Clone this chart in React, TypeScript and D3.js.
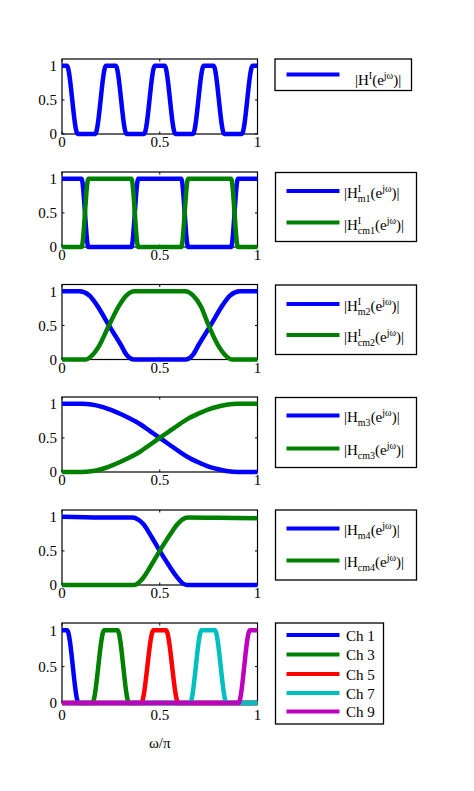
import React from 'react';
import * as d3 from 'd3';

type Pt = [number, number];

// tick values and labels shared by every panel
const xTicks = [0, 0.5, 1];
const yTicks = [0, 0.5, 1];
const tickLabels = ['0', '0.5', '1'];

// panel 1: |H^I(e^jw)|
const hI: Pt[] = [
  [0, 1], [0.025, 1], [0.08, 0], [0.17, 0], [0.225, 1], [0.275, 1], [0.33, 0], [0.42, 0],
  [0.475, 1], [0.525, 1], [0.58, 0], [0.67, 0], [0.725, 1], [0.775, 1], [0.83, 0], [0.92, 0],
  [0.975, 1], [1, 1],
];

// panel 2
const hm1: Pt[] = [
  [0, 1], [0.1, 1], [0.135, 0], [0.355, 0], [0.39, 1], [0.61, 1], [0.645, 0], [0.865, 0], [0.9, 1], [1, 1],
];
const hcm1: Pt[] = [
  [0, 0], [0.1, 0], [0.135, 1], [0.355, 1], [0.39, 0], [0.61, 0], [0.645, 1], [0.865, 1], [0.9, 0], [1, 0],
];

// panel 3
const hm2: Pt[] = [
  [0, 1], [0.09, 1], [0.14, 0.94], [0.18, 0.79], [0.24, 0.5], [0.3, 0.22], [0.33, 0.07], [0.37, 0],
  [0.63, 0], [0.67, 0.07], [0.7, 0.22], [0.76, 0.5], [0.82, 0.79], [0.86, 0.94], [0.91, 1], [1, 1],
];
const hcm2: Pt[] = [
  [0, 0], [0.12, 0], [0.15, 0.05], [0.19, 0.2], [0.24, 0.5], [0.29, 0.78], [0.33, 0.94], [0.37, 1],
  [0.63, 1], [0.67, 0.94], [0.71, 0.78], [0.75, 0.5], [0.8, 0.2], [0.84, 0.05], [0.87, 0], [1, 0],
];

// panel 4
const hm3: Pt[] = [
  [0, 1], [0.1, 1], [0.15, 0.99], [0.2, 0.96], [0.25, 0.91], [0.3, 0.85], [0.35, 0.78], [0.4, 0.7],
  [0.45, 0.6], [0.5, 0.5], [0.55, 0.4], [0.6, 0.3], [0.65, 0.21], [0.7, 0.14], [0.75, 0.08],
  [0.8, 0.04], [0.85, 0.01], [0.9, 0], [1, 0],
];
const hcm3: Pt[] = [
  [0, 0], [0.1, 0], [0.15, 0.01], [0.2, 0.04], [0.25, 0.09], [0.3, 0.15], [0.35, 0.22], [0.4, 0.3],
  [0.45, 0.4], [0.5, 0.5], [0.55, 0.6], [0.6, 0.7], [0.65, 0.79], [0.7, 0.86], [0.75, 0.92],
  [0.8, 0.96], [0.85, 0.99], [0.9, 1], [1, 1],
];

// panel 5
const hm4: Pt[] = [
  [0, 1], [0.2, 0.99], [0.36, 0.99], [0.39, 0.96], [0.417, 0.89], [0.45, 0.745], [0.5, 0.5],
  [0.553, 0.26], [0.587, 0.12], [0.615, 0.03], [0.64, 0], [1, 0],
];
const hcm4: Pt[] = [
  [0, 0], [0.37, 0], [0.39, 0.03], [0.417, 0.11], [0.45, 0.26], [0.5, 0.5], [0.553, 0.74],
  [0.587, 0.88], [0.615, 0.96], [0.645, 0.99], [0.8, 0.985], [1, 0.98],
];

// panel 6: channels
const ch1: Pt[] = [[0, 1], [0.026, 1], [0.085, 0], [1, 0]];
const ch3: Pt[] = [[0, 0], [0.155, 0], [0.216, 1], [0.284, 1], [0.343, 0], [1, 0]];
const ch5: Pt[] = [[0, 0], [0.405, 0], [0.468, 1], [0.532, 1], [0.595, 0], [1, 0]];
const ch7: Pt[] = [[0, 0], [0.655, 0], [0.714, 1], [0.782, 1], [0.842, 0], [1, 0]];
const ch9: Pt[] = [[0, 0], [0.903, 0], [0.961, 1], [1, 1]];
const chLabels = ['Ch 1', 'Ch 3', 'Ch 5', 'Ch 7', 'Ch 9'];

const BLUE = '#0000ff';
const GREEN = '#008000';
const RED = '#ff0000';
const CYAN = '#00bfbf';
const MAGENTA = '#bf00bf';

type Label = { text?: string; sup?: string; sub?: string };

interface Panel {
  top: number;
  height: number;
  series: { data: Pt[]; color: string; label: Label }[];
  legend: { x0: number; x1: number; y0: number; y1: number; rows: number[]; textX: number; baseDy: number };
  tickDy: number;
}

const panels: Panel[] = [
  {
    top: 59, height: 75, tickDy: 13,
    series: [{ data: hI, color: BLUE, label: { sup: 'I' } }],
    legend: { x0: 275, x1: 411.5, y0: 59, y1: 90.5, rows: [74.5], textX: 355, baseDy: 10 },
  },
  {
    top: 172, height: 75, tickDy: 13,
    series: [
      { data: hm1, color: BLUE, label: { sup: 'I', sub: 'm1' } },
      { data: hcm1, color: GREEN, label: { sup: 'I', sub: 'cm1' } },
    ],
    legend: { x0: 275.5, x1: 416.5, y0: 172.5, y1: 241.5, rows: [191, 222.5], textX: 344, baseDy: 7 },
  },
  {
    top: 284.5, height: 75, tickDy: 13,
    series: [
      { data: hm2, color: BLUE, label: { sup: 'I', sub: 'm2' } },
      { data: hcm2, color: GREEN, label: { sup: 'I', sub: 'cm2' } },
    ],
    legend: { x0: 275.5, x1: 416.5, y0: 285, y1: 354.5, rows: [304, 335], textX: 344, baseDy: 7 },
  },
  {
    top: 397, height: 75, tickDy: 13,
    series: [
      { data: hm3, color: BLUE, label: { sub: 'm3' } },
      { data: hcm3, color: GREEN, label: { sub: 'cm3' } },
    ],
    legend: { x0: 275.5, x1: 416.5, y0: 397.5, y1: 467.5, rows: [415.5, 448.5], textX: 344, baseDy: 6 },
  },
  {
    top: 510, height: 75, tickDy: 13,
    series: [
      { data: hm4, color: BLUE, label: { sub: 'm4' } },
      { data: hcm4, color: GREEN, label: { sub: 'cm4' } },
    ],
    legend: { x0: 275.5, x1: 416.5, y0: 510, y1: 580, rows: [528.5, 560.5], textX: 344, baseDy: 6 },
  },
  {
    top: 623, height: 80, tickDy: 17,
    series: [
      { data: ch1, color: BLUE, label: { text: chLabels[0] } },
      { data: ch3, color: GREEN, label: { text: chLabels[1] } },
      { data: ch5, color: RED, label: { text: chLabels[2] } },
      { data: ch7, color: CYAN, label: { text: chLabels[3] } },
      { data: ch9, color: MAGENTA, label: { text: chLabels[4] } },
    ],
    legend: { x0: 275.5, x1: 383.5, y0: 623, y1: 724, rows: [635, 654.5, 674, 693, 711.5], textX: 346, baseDy: 5.5 },
  },
];

const LEFT = 62;
const RIGHT = 257.5;
const FONT = 'Liberation Serif, Times New Roman, DejaVu Serif, serif';

const x = d3.scaleLinear().domain([0, 1]).range([LEFT, RIGHT]);

function LegendLabel({ x: lx, y, label }: { x: number; y: number; label: Label }) {
  if (label.text) {
    return <text x={lx} y={y} fontSize={15} fontFamily={FONT}>{label.text}</text>;
  }
  const parts: React.ReactNode[] = [<tspan key="h">|H</tspan>];
  let off = 0;
  if (label.sup) {
    parts.push(<tspan key="sup" fontSize={10} dy={-6}>{label.sup}</tspan>);
    off = -6;
  }
  if (label.sub) {
    parts.push(
      <tspan key="sub" fontSize={10} dx={label.sup ? -3.4 : 0} dy={4 - off}>{label.sub}</tspan>
    );
    off = 4;
  }
  parts.push(<tspan key="e" dy={-off}>(e</tspan>);
  parts.push(<tspan key="jw" fontSize={10} dy={-6}>jω</tspan>);
  parts.push(<tspan key="end" dy={6}>)|</tspan>);
  return <text x={lx} y={y} fontSize={15} fontFamily={FONT}>{parts}</text>;
}

function PanelView({ p, last }: { p: Panel; last: boolean }) {
  const bottom = p.top + p.height;
  const y = d3.scaleLinear().domain([0, 1.1]).range([bottom, p.top]);
  const line = d3.line<Pt>()
    .x(d => x(d[0]))
    .y(d => y(d[1]))
    .curve(d3.curveMonotoneX);
  const tl = 2.5;
  const lg = p.legend;
  return (
    <g>
      {xTicks.map(t => (
        <g key={'xt' + t}>
          <line x1={x(t)} x2={x(t)} y1={bottom} y2={bottom - tl} stroke="#000" />
          <line x1={x(t)} x2={x(t)} y1={p.top} y2={p.top + tl} stroke="#000" />
        </g>
      ))}
      {yTicks.map(t => (
        <g key={'yt' + t}>
          <line x1={LEFT} x2={LEFT + tl} y1={y(t)} y2={y(t)} stroke="#000" />
          <line x1={RIGHT} x2={RIGHT - tl} y1={y(t)} y2={y(t)} stroke="#000" />
        </g>
      ))}
      <rect x={LEFT} y={p.top} width={RIGHT - LEFT} height={p.height} fill="none" stroke="#000" strokeWidth={1.2} />
      {p.series.map((s, i) => (
        <path key={i} d={line(s.data) || ''} fill="none" stroke={s.color} strokeWidth={4.5} strokeLinejoin="round" />
      ))}
      {xTicks.map((t, i) => (
        <text key={'xl' + t} x={x(t)} y={bottom + p.tickDy} fontSize={15} fontFamily={FONT} textAnchor="middle">{tickLabels[i]}</text>
      ))}
      {yTicks.map((t, i) => (
        <text key={'yl' + t} x={57} y={y(t)} dy="0.35em" fontSize={15} fontFamily={FONT} textAnchor="end">{tickLabels[i]}</text>
      ))}
      <rect x={lg.x0} y={lg.y0} width={lg.x1 - lg.x0} height={lg.y1 - lg.y0} fill="#fff" stroke="#000" strokeWidth={1.3} />
      {p.series.map((s, i) => (
        <g key={'lg' + i}>
          <line x1={286.5} x2={339.5} y1={lg.rows[i]} y2={lg.rows[i]} stroke={s.color} strokeWidth={4} />
          <LegendLabel x={lg.textX} y={lg.rows[i] + lg.baseDy} label={s.label} />
        </g>
      ))}
      {last && (
        <text x={x(0.5)} y={bottom + 45} fontSize={15} fontFamily={FONT} textAnchor="middle">ω/π</text>
      )}
    </g>
  );
}

export default function App() {
  return (
    <svg
      width={474}
      height={791}
      style={{ position: 'absolute', left: 0, top: 0, background: '#fff' }}
    >
      <rect width={474} height={791} fill="#fff" />
      {panels.map((p, i) => (
        <PanelView key={i} p={p} last={i === panels.length - 1} />
      ))}
    </svg>
  );
}
